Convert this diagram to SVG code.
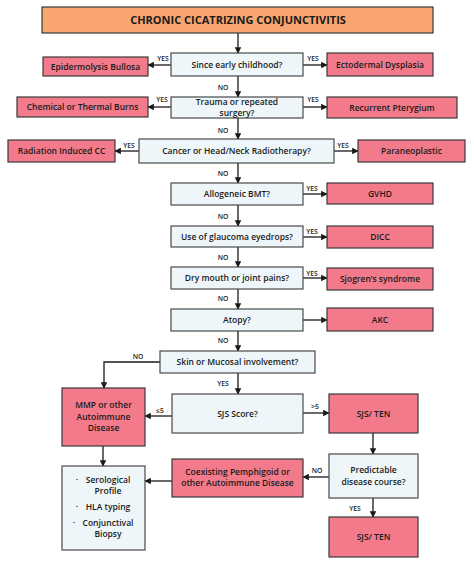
<svg xmlns="http://www.w3.org/2000/svg" width="474" height="566" viewBox="0 0 474 566">
<defs>
<style>
.q{fill:#EEF6F9;stroke:#4a4a4a;stroke-width:1.2}
.d{fill:#F27A8B;stroke:#3a3a3a;stroke-width:1.2}
.t{fill:#F8A56F;stroke:#3a3a3a;stroke-width:1.2}
text{font-family:"Open Sans","Liberation Sans",sans-serif;font-weight:600;fill:#1a1a1a;text-anchor:middle}
.n{font-size:8.5px}
.l{font-size:6.8px}
.h{font-size:11px;font-weight:700}
.c line,.c polyline{stroke:#1a1a1a;stroke-width:1.3;fill:none;marker-end:url(#a)}
</style>
<marker id="a" viewBox="0 0 10 10" refX="9" refY="5" markerWidth="5" markerHeight="5" orient="auto"><path d="M0,0 L10,5 L0,10 z" fill="#1a1a1a"/></marker>
</defs>
<rect width="474" height="566" fill="#fff"/>

<g class="c" id="connectors">
<line x1="238" y1="33" x2="238" y2="53"/>
<line x1="171" y1="65" x2="148" y2="65"/>
<line x1="303" y1="65" x2="327" y2="65"/>
<line x1="238" y1="76" x2="238" y2="97"/>
<line x1="171" y1="107" x2="148" y2="107"/>
<line x1="303" y1="107" x2="327" y2="107"/>
<line x1="238" y1="118" x2="238" y2="139"/>
<line x1="139" y1="151" x2="115" y2="151"/>
<line x1="334" y1="151" x2="358" y2="151"/>
<line x1="238" y1="163" x2="238" y2="183"/>
<line x1="303" y1="194" x2="327" y2="194"/>
<line x1="238" y1="205" x2="238" y2="226"/>
<line x1="303" y1="237" x2="327" y2="237"/>
<line x1="238" y1="247" x2="238" y2="267"/>
<line x1="303" y1="278" x2="327" y2="278"/>
<line x1="238" y1="289" x2="238" y2="309"/>
<line x1="303" y1="320" x2="327" y2="320"/>
<line x1="238" y1="331" x2="238" y2="351"/>
<polyline points="160,362 104,362 104,388"/>
<line x1="238" y1="373" x2="238" y2="394"/>
<line x1="172" y1="416" x2="145" y2="416"/>
<line x1="303" y1="413" x2="329" y2="413"/>
<line x1="373" y1="433" x2="373" y2="454"/>
<line x1="329" y1="477" x2="303" y2="477"/>
<line x1="172" y1="481" x2="145" y2="481"/>
<line x1="103" y1="446" x2="103" y2="466"/>
<line x1="373" y1="498" x2="373" y2="517"/>
<text class="l" x="163" y="61">YES</text>
<text class="l" x="313" y="61">YES</text>
<text class="l" x="223" y="90">NO</text>
<text class="l" x="162" y="102">YES</text>
<text class="l" x="313" y="102">YES</text>
<text class="l" x="223" y="133">NO</text>
<text class="l" x="129" y="148">YES</text>
<text class="l" x="343" y="148">YES</text>
<text class="l" x="223" y="176">NO</text>
<text class="l" x="312" y="191">YES</text>
<text class="l" x="223" y="219">NO</text>
<text class="l" x="312" y="234">YES</text>
<text class="l" x="223" y="260">NO</text>
<text class="l" x="312" y="276">YES</text>
<text class="l" x="223" y="301">NO</text>
<text class="l" x="223" y="343">NO</text>
<text class="l" x="138" y="359">NO</text>
<text class="l" x="223" y="386">YES</text>
<text class="l" x="160" y="413">≤5</text>
<text class="l" x="315" y="409">&gt;5</text>
<text class="l" x="317" y="473">NO</text>
<text class="l" x="355" y="511">YES</text>
</g>

<g id="title"><rect class="t" x="42" y="7" width="391" height="26"/><text class="h" x="238" y="24">CHRONIC CICATRIZING CONJUNCTIVITIS</text></g>

<g id="q1"><rect class="q" x="171" y="53" width="132" height="23"/><text class="n" x="237" y="67.5">Since early childhood?</text></g>
<g id="d1l"><rect class="d" x="43" y="57" width="105" height="19"/><text class="n" x="95.5" y="69.5">Epidermolysis Bullosa</text></g>
<g id="d1r"><rect class="d" x="327" y="53" width="106" height="23"/><text class="n" x="380" y="67.5">Ectodermal Dysplasia</text></g>

<g id="q2"><rect class="q" x="171" y="97" width="132" height="21"/><text class="n" x="237" y="105">Trauma or repeated</text><text class="n" x="237" y="116">surgery?</text></g>
<g id="d2l"><rect class="d" x="17" y="97" width="131" height="20"/><text class="n" x="82.5" y="110">Chemical or Thermal Burns</text></g>
<g id="d2r"><rect class="d" x="327" y="97" width="130" height="21"/><text class="n" x="392" y="110.5">Recurrent Pterygium</text></g>

<g id="q3"><rect class="q" x="139" y="139" width="195" height="24"/><text class="n" x="236.5" y="154">Cancer or Head/Neck Radiotherapy?</text></g>
<g id="d3l"><rect class="d" x="8" y="140" width="107" height="22"/><text class="n" x="61.5" y="154">Radiation Induced CC</text></g>
<g id="d3r"><rect class="d" x="358" y="140" width="107" height="22"/><text class="n" x="411.5" y="154">Paraneoplastic</text></g>

<g id="q4"><rect class="q" x="171" y="183" width="132" height="22"/><text class="n" x="237" y="197">Allogeneic BMT?</text></g>
<g id="d4"><rect class="d" x="327" y="183" width="106" height="21"/><text class="n" x="380" y="196.5">GVHD</text></g>

<g id="q5"><rect class="q" x="171" y="226" width="132" height="21"/><text class="n" x="237" y="239.5">Use of glaucoma eyedrops?</text></g>
<g id="d5"><rect class="d" x="327" y="226" width="106" height="22"/><text class="n" x="380" y="240">DICC</text></g>

<g id="q6"><rect class="q" x="171" y="267" width="132" height="22"/><text class="n" x="237" y="281">Dry mouth or joint pains?</text></g>
<g id="d6"><rect class="d" x="327" y="268" width="106" height="22"/><text class="n" x="380" y="282">Sjogren’s syndrome</text></g>

<g id="q7"><rect class="q" x="171" y="309" width="132" height="22"/><text class="n" x="237" y="323">Atopy?</text></g>
<g id="d7"><rect class="d" x="327" y="308" width="106" height="23"/><text class="n" x="380" y="322.5">AKC</text></g>

<g id="q8"><rect class="q" x="160" y="351" width="155" height="22"/><text class="n" x="237.5" y="365">Skin or Mucosal involvement?</text></g>

<g id="d8"><rect class="d" x="62" y="388" width="83" height="58"/><text class="n" x="103.5" y="408">MMP or other</text><text class="n" x="103.5" y="419.5">Autoimmune</text><text class="n" x="103.5" y="431">Disease</text></g>

<g id="q9"><rect class="q" x="172" y="394" width="131" height="39"/><text class="n" x="237.5" y="416.5">SJS Score?</text></g>
<g id="d9"><rect class="d" x="329" y="394" width="89" height="39"/><text class="n" x="373.5" y="416.5">SJS/ TEN</text></g>

<g id="q10"><rect class="q" x="329" y="454" width="89" height="44"/><text class="n" x="373.5" y="473">Predictable</text><text class="n" x="373.5" y="484.5">disease course?</text></g>

<g id="d10"><rect class="d" x="172" y="459" width="131" height="38"/><text class="n" x="237.5" y="474.5">Coexisting Pemphigoid or</text><text class="n" x="237.5" y="486">other Autoimmune Disease</text></g>

<g id="d11"><rect class="d" x="329" y="517" width="89" height="40"/><text class="n" x="373.5" y="540">SJS/ TEN</text></g>

<g id="tests"><rect class="q" x="62" y="466" width="83" height="84"/>
<text class="n" x="77" y="483">·</text><text class="n" x="108" y="483">Serological</text><text class="n" x="108" y="494">Profile</text>
<text class="n" x="77" y="510">·</text><text class="n" x="108" y="510">HLA typing</text>
<text class="n" x="74" y="526">·</text><text class="n" x="108" y="526">Conjunctival</text><text class="n" x="108" y="537">Biopsy</text>
</g>
</svg>
